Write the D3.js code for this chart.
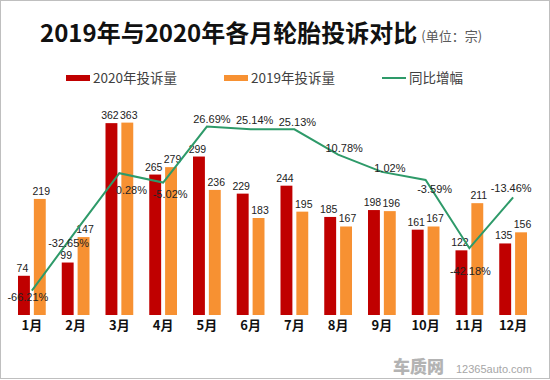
<!DOCTYPE html>
<html><head><meta charset="utf-8">
<script src="https://cdn.jsdelivr.net/npm/d3@7"></script>
<style>
html,body{margin:0;padding:0;background:#fff;}
svg{display:block;}
</style></head>
<body>
<svg id="c" width="550" height="380"></svg>
<script>
const months = ["1月","2月","3月","4月","5月","6月","7月","8月","9月","10月","11月","12月"];
const values2020 = [74, 99, 362, 265, 299, 229, 244, 185, 198, 161, 122, 135];
const values2019 = [219, 147, 363, 279, 236, 183, 195, 167, 196, 167, 211, 156];
const growth = [-66.21, -32.65, 0.28, -5.02, 26.69, 25.14, 25.13, 10.78, 1.02, -3.59, -42.18, -13.46];
const seriesNames = ["2020年投诉量", "2019年投诉量", "同比增幅"];
const title = "2019年与2020年各月轮胎投诉对比";
const unitText = "(单位：宗)";

// label placement offsets for the growth labels (style, not data)
const pctLabelDx = [-4, -7, 12, 7, 5, 4, 3, 6, 8, 9, 1, -2];
const pctLabelDy = [7, 12, 17, 12, -7, -9, -7, -6, -4, 9, 23, -9];

const colors = {y2020: "#C00000", y2019: "#F79132", line: "#2E9A69"};
const numFont = "'Liberation Sans', Arial, sans-serif";
const cjkFont = "'Noto Sans CJK SC', 'Noto Sans', sans-serif";

const svg = d3.select("#c");
svg.append("rect").attr("x",0.5).attr("y",0.5).attr("width",549).attr("height",378)
  .attr("fill","#fff").attr("stroke","#bfbfbf");

const x = d3.scaleBand().domain(months).range([10, 535]).paddingInner(0).paddingOuter(0);
const xi = d3.scaleBand().domain(["y2020","y2019"]).range([8, x.bandwidth()-8]).paddingInner(0.25);
const yBar = d3.scaleLinear().domain([0, 400]).range([315, 103]);
const yPct = d3.scaleLinear().domain([-80, 40]).range([315, 103]);

// title
const t = svg.append("text").attr("x", 40).attr("y", 42)
  .attr("font-family", cjkFont).attr("font-weight", 700).attr("font-size", 24)
  .attr("fill", "#111").text(title);
const tw = t.node().getComputedTextLength();
svg.append("text").attr("x", 40 + tw + 4).attr("y", 41)
  .attr("font-family", cjkFont).attr("font-size", 13).attr("fill", "#595959").text(unitText);

// legend
const legend = [
  {name: seriesNames[0], color: colors.y2020, type: "rect", x: 66},
  {name: seriesNames[1], color: colors.y2019, type: "rect", x: 224},
  {name: seriesNames[2], color: colors.line, type: "line", x: 382}
];
legend.forEach(l => {
  if (l.type === "rect") {
    svg.append("rect").attr("x", l.x).attr("y", 75).attr("width", 24).attr("height", 6).attr("fill", l.color);
  } else {
    svg.append("line").attr("x1", l.x).attr("x2", l.x + 24).attr("y1", 78).attr("y2", 78)
      .attr("stroke", l.color).attr("stroke-width", 2);
  }
  svg.append("text").attr("x", l.x + 27).attr("y", 83)
    .attr("font-family", cjkFont).attr("font-size", 13.5).attr("fill", "#404040").text(l.name);
});

// bars
const rows = months.map((m, i) => ({m, y2020: values2020[i], y2019: values2019[i], g: growth[i], i}));
const groups = svg.append("g").selectAll("g").data(rows).join("g")
  .attr("transform", d => `translate(${x(d.m)},0)`);
["y2020","y2019"].forEach(k => {
  groups.append("rect")
    .attr("x", xi(k)).attr("width", xi.bandwidth())
    .attr("y", d => yBar(d[k])).attr("height", d => yBar(0) - yBar(d[k]))
    .attr("fill", colors[k]);
});
const labelShift = {y2020: -1.5, y2019: 1.5};
["y2020","y2019"].forEach(k => {
  groups.append("text")
    .attr("x", xi(k) + xi.bandwidth()/2 + labelShift[k]).attr("y", d => yBar(d[k]) - 4)
    .attr("text-anchor", "middle").attr("font-family", numFont).attr("font-size", 10.5)
    .attr("fill", "#222").text(d => d[k]);
});

// x axis labels
const xAxis = d3.axisBottom(x).tickSize(0).tickPadding(0);
const ax = svg.append("g").attr("transform", "translate(0,318)").call(xAxis);
ax.select(".domain").remove();
ax.selectAll("text").attr("font-family", cjkFont).attr("font-weight", 700)
  .attr("font-size", 13).attr("fill", "#111").attr("dy", "0.9em");

// line
const line = d3.line().x(d => x(d.m) + x.bandwidth()/2).y(d => yPct(d.g));
svg.append("path").datum(rows).attr("d", line).attr("fill", "none")
  .attr("stroke", colors.line).attr("stroke-width", 2);
svg.append("g").selectAll("text").data(rows).join("text")
  .attr("x", d => x(d.m) + x.bandwidth()/2 + pctLabelDx[d.i])
  .attr("y", d => yPct(d.g) + pctLabelDy[d.i])
  .attr("dy", "0.35em").attr("text-anchor", "middle")
  .attr("font-family", numFont).attr("font-size", 11).attr("fill", "#222")
  .text(d => d.g.toFixed(2) + "%");

// watermark
svg.append("text").attr("x", 393).attr("y", 373).attr("font-family", cjkFont).attr("font-weight", 900)
  .attr("font-size", 17).attr("fill", "#b3b3b3").text("车质网");
svg.append("text").attr("x", 456).attr("y", 373).attr("font-family", "'Liberation Sans', Arial, sans-serif")
  .attr("font-size", 11).attr("fill", "#a6a6a6").text("12365auto.com");
</script>
</body></html>
